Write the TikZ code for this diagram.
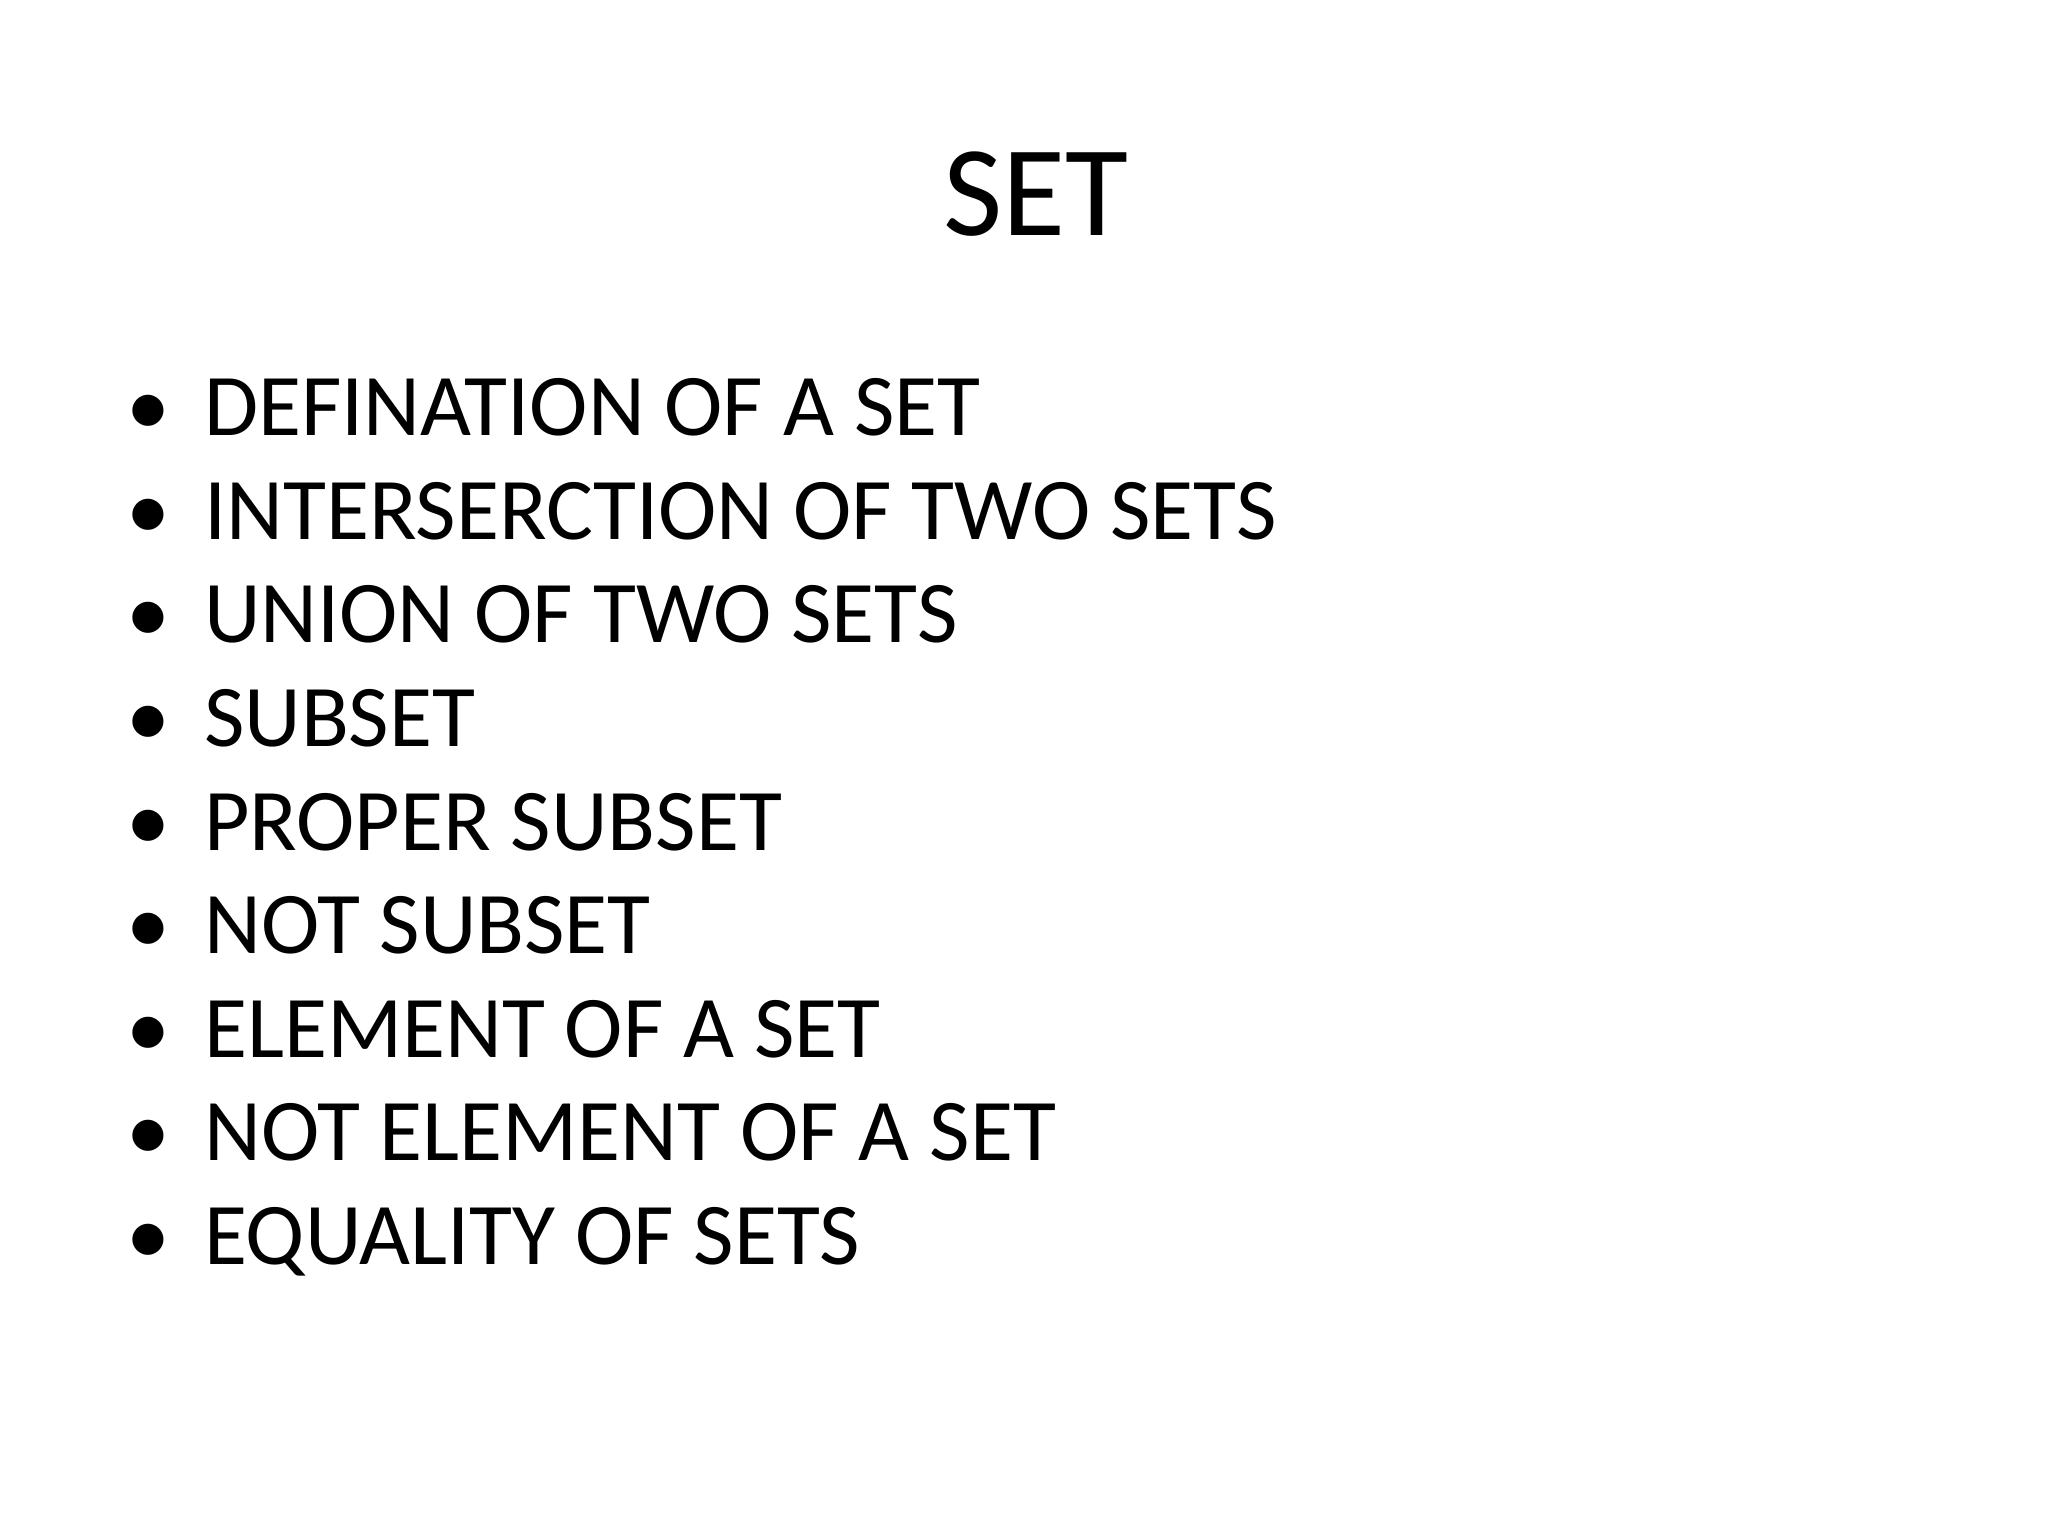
\documentclass[tikz,border=0pt]{standalone}
\usepackage{fontspec}
\setmainfont{Carlito}
\begin{document}
\begin{tikzpicture}[x=1pt,y=-1pt,
  item/.style={anchor=base west,inner sep=0pt,font=\fontsize{88}{100}\selectfont},
  title/.style={anchor=base,inner sep=0pt,font=\fontsize{129}{140}\selectfont}]
\useasboundingbox (0,0) rectangle (2048,1536);
\fill[white] (0,0) rectangle (2048,1536);
\node[title] (t) at (1036,235) {SET};
\foreach \i/\txt in {0/DEFINATION OF A SET,1/INTERSERCTION OF TWO SETS,2/UNION OF TWO SETS,3/SUBSET,4/PROPER SUBSET,5/NOT SUBSET,6/ELEMENT OF A SET,7/NOT ELEMENT OF A SET,8/EQUALITY OF SETS}{
  \node[item] (b\i) at (126,{435.6+103.6*\i}) {•};
  \node[item] (i\i) at (204,{435.6+103.6*\i}) {\txt};
}
\end{tikzpicture}
\end{document}
